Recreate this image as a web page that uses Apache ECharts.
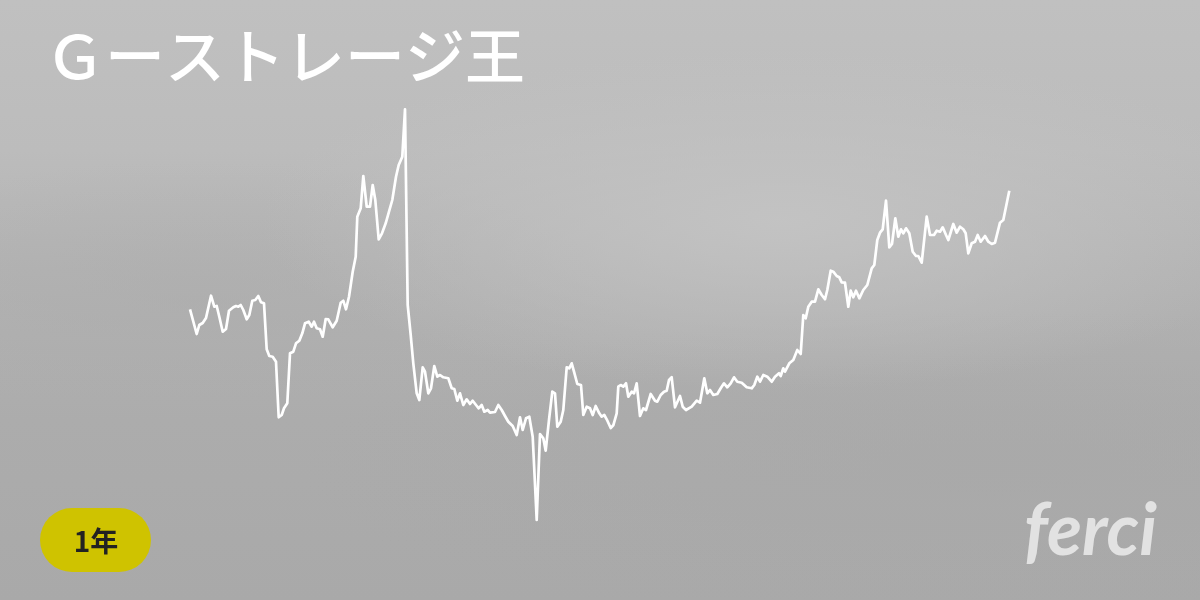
<!DOCTYPE html>
<html>
<head>
<meta charset="utf-8">
<script src="https://cdn.jsdelivr.net/npm/echarts@6/dist/echarts.min.js"></script>
<style>
html,body{margin:0;padding:0;}
body{width:1200px;height:600px;overflow:hidden;
background:
 radial-gradient(ellipse 520px 170px at 780px 220px, rgba(196,196,196,0.9), rgba(196,196,196,0) 100%),
 radial-gradient(ellipse 420px 140px at 200px 300px, rgba(172,172,172,0.5), rgba(172,172,172,0) 100%),
 radial-gradient(ellipse 700px 160px at 1000px 470px, rgba(168,168,168,0.6), rgba(168,168,168,0) 100%),
 linear-gradient(180deg,#c0c0c0 0%,#bcbcbc 25%,#b3b3b3 45%,#acacac 70%,#a9a9a9 100%);}
#chart{width:1200px;height:600px;}
</style>
</head>
<body>
<div id="chart"></div>
<script>
// time index (arbitrary units across one year) and price level (arbitrary units)
const t = [0,6.7,9.3,12.7,16,21,24.3,26.7,29.3,32.7,36,39,43.3,46,48.3,50.7,53.3,56.7,59.3,62.3,65.3,68.3,71,74,76.7,79.3,82.7,86,88.7,91.7,94,97.3,100,103.3,106,109.3,112.3,115,118.7,121.7,124,126.7,130,132.7,135.7,138.3,142.7,146.7,150.7,153.3,156,159,162.7,165.7,167.3,170.7,173.3,176.7,180,182.7,185.3,188.7,192,195.7,199,202.3,206,208.7,212.3,215,217.7,220.7,223.3,226.7,229.3,232.7,235,238.3,241,244.3,247.3,250,253.3,258.3,261.7,264.3,267.3,270,273.3,276.7,280,282.7,286,288.7,291.7,294.3,297.7,300,305,308.3,311.7,315,318.3,322.7,326.7,330,332.7,336,339.3,342.7,346.7,350,353.3,355.7,359,362.3,365,367.3,370.7,373.3,376.7,379.3,381.7,384,387.3,391,393.3,396.7,400,402.7,405.7,409.3,411.7,414.3,416.7,420.7,423.3,426.7,428.3,430.7,433.3,436,438.3,441.7,444,446.7,450,453.3,456,460.7,465,467.3,470.7,474,476.7,479,481.7,485,490,492.7,496,501.7,506.7,510,514.3,517.3,520,523.3,527.3,530.7,534,537.3,540.7,544,547.3,551.7,556.7,561.7,564.3,567.3,570,573.3,577.3,581.7,585,589,590.7,593.3,595,599.3,603.3,607.3,610.7,613.3,615.7,618.3,621.7,625,628.3,631.7,635,637.3,640.7,643.3,646.7,649.3,651.7,655,658.3,660.7,663.3,666,669.3,673.3,677.3,681.7,684.3,687.3,690,692.7,696,699.3,702,705.3,708.3,711,713.3,716,719.3,722.7,726,728.3,731.7,736.7,740,744,746.7,750,752.7,756,758.3,763.3,766.7,770,773.3,775.7,778.3,781.7,785,787.7,790.7,795,798.3,801.7,805,810,813.3,819.3];
const price = [290.7,266,275,277,282,304.3,293.3,294,283.3,268.3,271,289.3,292.7,294,293.3,295,290,280.7,285,299.3,300,304,297.7,296.7,250.7,244,243.3,238.3,182.7,185,191.7,196.7,246.7,248.3,256.7,259.3,266.7,276.7,278.3,273.3,278.3,271.7,270.7,263.3,281,280.7,272.7,279.3,297.3,299.3,290.7,303.3,328.3,343.3,383.3,391.7,424,393.3,393.3,415,400,360.7,366.7,376.7,388.3,400,423.3,435,443.3,490.7,295,265,236.7,206.7,200,232.7,228.3,206.7,211.7,234,223.3,225,222.7,221.7,211.7,211,199.3,206.7,195,200.7,196,199.3,195,191.7,195,188.3,190,187.3,188,195,190,184,178.3,174,165,182.7,170,181.7,183.3,163.3,80,166,161.7,149.3,180,208.3,206.7,173.3,178.3,190,232.7,231.7,236.7,228.3,216,215,185,193.3,191.7,185,194,186.7,183.3,185,180.7,172,174.7,186.7,213.3,215,213.3,216.7,203.3,208.3,206.7,216.7,184,191.7,190,206,199.3,198.3,205,208.3,209.3,220,222.7,192.7,204,193.3,190,193.3,199.3,197.3,221.7,206.7,210,205,206,211.7,216.7,212.7,216.7,222.7,218.3,217.3,212.7,211.7,215,223.3,218.3,225,223.3,218.3,223.3,226.7,224,231.7,228.3,236.7,240,250,246,285,281.7,293.3,298.3,298.3,310.7,305,300.7,310,329.3,328.3,324,322.7,317.7,317.3,293.3,309.3,302.7,309.3,301.7,310,315,331.7,335,360,367.3,370.7,399.3,352.7,356,381.7,363.3,370.7,366.7,371.7,366.7,348.3,344,344,337.3,383.3,365,365,369.3,368.3,372.7,365,360,376,367.3,373.3,370.7,366.7,346.7,356.7,358.3,365,358.3,364,358.3,356,357.3,377.3,380,409.3];
const titleText = 'Ｇーストレージ王';
const periodLabel = '1年';
const brand = 'ferci';

const chart = echarts.init(document.getElementById('chart'), null, {renderer:'canvas'});
chart.setOption({
  backgroundColor: 'transparent',
  animation: false,
  grid: {left:190, right:190, top:0, bottom:0},
  xAxis: {type:'value', min:0, max:820, show:false},
  yAxis: {type:'value', min:0, max:600, show:false},
  series: [{
    type:'line',
    data: t.map((x,i)=>[x, price[i]]),
    showSymbol:false,
    symbol:'none',
    lineStyle:{color:'#ffffff', width:2.7, join:'round'},
    silent:true
  }],
  graphic: [
    {type:'text', left:45, top:26, style:{text:titleText, fill:'#ffffff', font:'500 60px "Noto Sans CJK JP"'}},
    {type:'rect', left:40, top:508, shape:{width:111, height:64, r:32}, style:{fill:'#cfc300'}},
    {type:'text', x:96, y:541, style:{text:periodLabel, fill:'#222222', font:'bold 28px "Noto Sans CJK JP"', align:'center', verticalAlign:'middle'}},
    {type:'text', left:1024, top:496, style:{text:brand, fill:'rgba(236,236,236,0.85)', font:'italic bold 72px Lato'}}
  ]
});
</script>
</body>
</html>
